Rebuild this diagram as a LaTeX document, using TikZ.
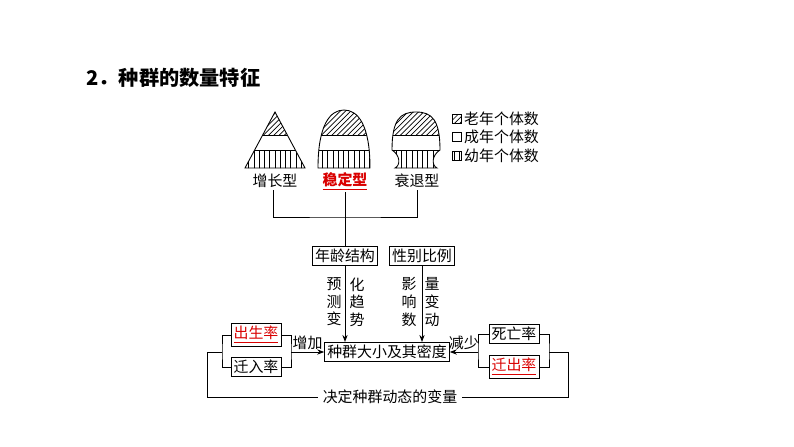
\documentclass[tikz,border=0pt]{standalone}
\usepackage{fontspec}
\setmainfont{Noto Sans CJK SC}
\usetikzlibrary{patterns, positioning, arrows.meta}
\tikzset{
  box/.style={draw, inner sep=1.5pt, font=\fontsize{8.5}{10}\selectfont},
  txt/.style={inner sep=1pt, font=\fontsize{8.5}{10}\selectfont},
  redtxt/.style={txt, text=red!85!black},
  arr/.style={-{Stealth[length=4pt,width=3pt]}}
}
\begin{document}
\begin{tikzpicture}[x=0.02cm, y=-0.02cm, line width=0.5pt]
  \useasboundingbox (0,0) rectangle (794,446);
  \node[anchor=west, font=\fontsize{11.5}{13}\selectfont\bfseries] (title) at (80,78) {2．种群的数量特征};

  % age pyramids
  \def\grow{(245,168) -- (275,112) -- (305,168) -- cycle}
  \def\stable{(318,168) .. controls (318,125) and (330,110) .. (344,110) .. controls (358,110) and (370,125) .. (370,168) -- cycle}
  \def\decl{(392,150) .. controls (392,120) and (400,112) .. (416,112) .. controls (432,112) and (440,120) .. (440,150) .. controls (432,155) and (431,165) .. (437,168) -- (395,168) .. controls (401,165) and (400,155) .. (392,150) -- cycle}
  \foreach \shape in {\grow, \stable, \decl} {
    \begin{scope}
      \clip \shape;
      \fill[pattern=north east lines] (200,100) rectangle (460,135);
      \fill[pattern=vertical lines] (200,150) rectangle (460,170);
      \draw (200,135) -- (460,135);
      \draw (200,150) -- (460,150);
    \end{scope}
    \draw \shape;
  }

  % legend
  \foreach \y/\lab in {119/老年个体数, 137/成年个体数, 156/幼年个体数} {
    \draw (452,\y-4.5) rectangle (461,\y+4.5);
    \node[txt, anchor=west] at (462,\y) {\lab};
  }
  \fill[pattern=north east lines] (452,114.5) rectangle (461,123.5);
  \fill[pattern=vertical lines] (452,151.5) rectangle (461,160.5);

  \node[txt] (zeng) at (275,181) {增长型};
  \node[redtxt, font=\fontsize{8.5}{10}\selectfont\bfseries] (wen) at (345,181) {\underline{稳定型}};
  \node[txt] (shuai) at (417,181) {衰退型};

  \node[box] (age) at (345,256) {年龄结构};
  \node[box] (sex) at (422,256) {性别比例};
  \node[box] (pop) at (387,352) {种群大小及其密度};

  \node[box, text=red!85!black] (birth) at (256,335) {\underline{出生率}};
  \node[box] (immi) at (256,367) {迁入率};
  \node[box] (death) at (514,334) {死亡率};
  \node[box, text=red!85!black] (emi) at (514,367) {\underline{迁出率}};

  \coordinate (lb) at (222,352);
  \coordinate (rb) at (291,352);
  \coordinate (lr) at (478,352);
  \coordinate (rr) at (549,352);

  % connectors
  \draw (zeng.south) ++(-2,0) |- (345,217) -| (shuai.south);
  \draw (wen.south) -- (age.north);
  \draw[arr] (age.south) -- (pop.north -| age);
  \draw[arr] (sex.south) -- (pop.north -| sex);
  \node[txt, align=center] at (334,302) {预\\测\\变};
  \node[txt, align=center] at (357,302) {化\\趋\\势};
  \node[txt, align=center] at (409,302) {影\\响\\数};
  \node[txt, align=center] at (432,302) {量\\变\\动};

  \draw (birth.west) -| (lb) |- (immi.west);
  \draw (birth.east) -| (rb) |- (immi.east);
  \draw[arr] (rb) -- (pop.west) node[txt, midway, above] {增加};
  \draw (death.east) -| (rr) |- (emi.east);
  \draw (death.west) -| (lr) |- (emi.west);
  \draw[arr] (lr) -- (pop.east) node[txt, midway, above] {减少};

  \draw (lb) -- (207,352) |- (568,397) |- (rr);
  \node[txt, fill=white, inner sep=3pt] (var) at (390,397) {决定种群动态的变量};
\end{tikzpicture}
\end{document}
